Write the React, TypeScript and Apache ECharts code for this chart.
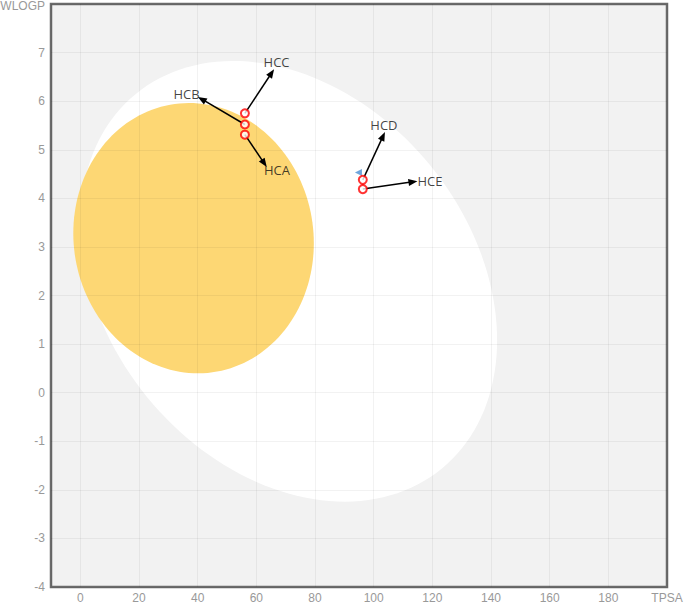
import React, { useEffect, useRef } from 'react';
import * as echarts from 'echarts';

// Ellipses (egg white = HIA, yolk = BBB)
const ellipseNames = ['HIA', 'BBB'];
const ellipseCenterTPSA = [71.051, 38.6];
const ellipseCenterWLOGP = [2.292, 3.18];
const ellipseSemiTPSA = [71.04, 41.0];
const ellipseSemiWLOGP = [4.37, 2.78];
const ellipseAngle = [-0.0171, -0.0025];
const ellipseColors = ['#ffffff', '#fdd774'];

// Molecules
const moleculeNames = ['HCA', 'HCB', 'HCC', 'HCD', 'HCE'];
const moleculeTPSA = [56.1, 56.1, 56.1, 96.3, 96.3];
const moleculeWLOGP = [5.31, 5.52, 5.75, 4.38, 4.19];

// Arrow tips and label anchors
const arrowTipTPSA = [62.7, 41.4, 65.2, 103.2, 113.4];
const arrowTipWLOGP = [4.72, 6.04, 6.58, 5.28, 4.34];
const labelTPSA = [67.05, 36.2, 66.9, 103.5, 119.2];
const labelWLOGP = [4.58, 6.15, 6.81, 5.5, 4.36];

// PGP+ marker
const pgpTPSA = [94.8];
const pgpWLOGP = [4.53];

const xMin = -10;
const xMax = 200;
const yMin = -4;
const yMax = 8;

export default function App() {
  const ref = useRef<HTMLDivElement>(null);
  useEffect(() => {
    if (!ref.current) return;
    const chart = echarts.init(ref.current, undefined, { renderer: 'svg' });
    const ellipseData = ellipseNames.map((n, i) => ({
      name: n,
      value: [ellipseCenterTPSA[i], ellipseCenterWLOGP[i], ellipseSemiTPSA[i], ellipseSemiWLOGP[i], ellipseAngle[i]],
    }));
    const arrows = moleculeNames.map((n, i) => [
      { coord: [moleculeTPSA[i], moleculeWLOGP[i]], symbol: 'none' },
      { coord: [arrowTipTPSA[i], arrowTipWLOGP[i]], symbol: 'triangle' },
    ]);
    const tickFont = { color: '#999', fontSize: 12, fontFamily: 'Liberation Sans' };
    const option: any = {
      animation: false,
      grid: {
        left: 51,
        right: 18,
        top: 4,
        bottom: 17,
        show: true,
        backgroundColor: '#f2f2f2',
        borderColor: '#6b6b6b',
        borderWidth: 2.5,
        containLabel: false,
        outerBoundsMode: 'none',
      },
      xAxis: {
        type: 'value',
        min: xMin,
        max: xMax,
        splitNumber: 10,
        z: 3,
        name: 'TPSA',
        nameLocation: 'end',
        nameGap: 0,
        nameTextStyle: {
          ...tickFont,
          align: 'center',
          verticalAlign: 'top',
          lineHeight: 12,
          padding: [5, 0, 0, 0],
        },
        axisLine: { show: false, onZero: false },
        axisTick: { show: false },
        axisLabel: {
          ...tickFont,
          lineHeight: 12,
          margin: 5,
          showMinLabel: false,
          showMaxLabel: false,
          formatter: (v: number) => (v < 0 || v > 190 ? '' : String(v)),
        },
        splitLine: { show: true, lineStyle: { color: 'rgba(0,0,0,0.05)', width: 1 } },
      },
      yAxis: {
        type: 'value',
        min: yMin,
        max: yMax,
        interval: 1,
        z: 3,
        name: 'WLOGP',
        nameLocation: 'end',
        nameGap: 4,
        nameTextStyle: {
          ...tickFont,
          align: 'right',
          verticalAlign: 'top',
          lineHeight: 12,
          padding: [0, 6, 0, 0],
        },
        axisLine: { show: false, onZero: false },
        axisTick: { show: false },
        axisLabel: {
          ...tickFont,
          margin: 6,
          showMaxLabel: false,
          formatter: (v: number) => (v > 7.5 ? '' : String(v)),
        },
        splitLine: { show: true, lineStyle: { color: 'rgba(0,0,0,0.05)', width: 1 } },
      },
      series: [
        {
          type: 'custom',
          name: 'egg',
          z: 1,
          silent: true,
          data: ellipseData,
          encode: { x: 0, y: 1 },
          renderItem: (params: any, api: any) => {
            const cx = api.value(0);
            const cy = api.value(1);
            const a = api.value(2);
            const b = api.value(3);
            const th = api.value(4);
            const pts: number[][] = [];
            const N = 160;
            for (let k = 0; k < N; k++) {
              const t = (k / N) * Math.PI * 2;
              const x = cx + a * Math.cos(t) * Math.cos(th) - b * Math.sin(t) * Math.sin(th);
              const y = cy + a * Math.cos(t) * Math.sin(th) + b * Math.sin(t) * Math.cos(th);
              pts.push(api.coord([x, y]));
            }
            return {
              type: 'polygon',
              shape: { points: pts },
              style: { fill: ellipseColors[params.dataIndex] },
            };
          },
        },
        {
          type: 'line',
          name: 'arrows',
          z: 4,
          data: [],
          silent: true,
          markLine: {
            silent: true,
            symbolSize: [7, 9],
            label: { show: false },
            lineStyle: { color: '#000', width: 1.5, type: 'solid' },
            itemStyle: { color: '#000' },
            emphasis: { disabled: true },
            data: arrows,
          },
        },
        {
          type: 'scatter',
          name: 'PGP+',
          z: 5,
          symbol: 'triangle',
          symbolSize: 7,
          symbolRotate: 90,
          itemStyle: { color: '#4a8fd4' },
          data: pgpTPSA.map((x, i) => [x, pgpWLOGP[i]]),
        },
        {
          type: 'scatter',
          name: 'PGP-',
          z: 6,
          symbol: 'circle',
          symbolSize: 8,
          itemStyle: { color: '#ffffff', borderColor: '#ff0000', borderWidth: 2 },
          data: moleculeNames.map((n, i) => ({ name: n, value: [moleculeTPSA[i], moleculeWLOGP[i]] })),
        },
        {
          type: 'scatter',
          name: 'labels',
          z: 7,
          silent: true,
          symbolSize: 1,
          itemStyle: { color: 'transparent' },
          label: {
            show: true,
            position: 'inside',
            formatter: '{b}',
            color: '#111',
            fontSize: 13,
            fontFamily: 'Open Sans',
          },
          data: moleculeNames.map((n, i) => ({ name: n, value: [labelTPSA[i], labelWLOGP[i]] })),
        },
      ],
    };
    chart.setOption(option);
    return () => chart.dispose();
  }, []);
  return (
    <div
      ref={ref}
      style={{ position: 'absolute', left: 0, top: 0, width: 685, height: 604 }}
    />
  );
}
